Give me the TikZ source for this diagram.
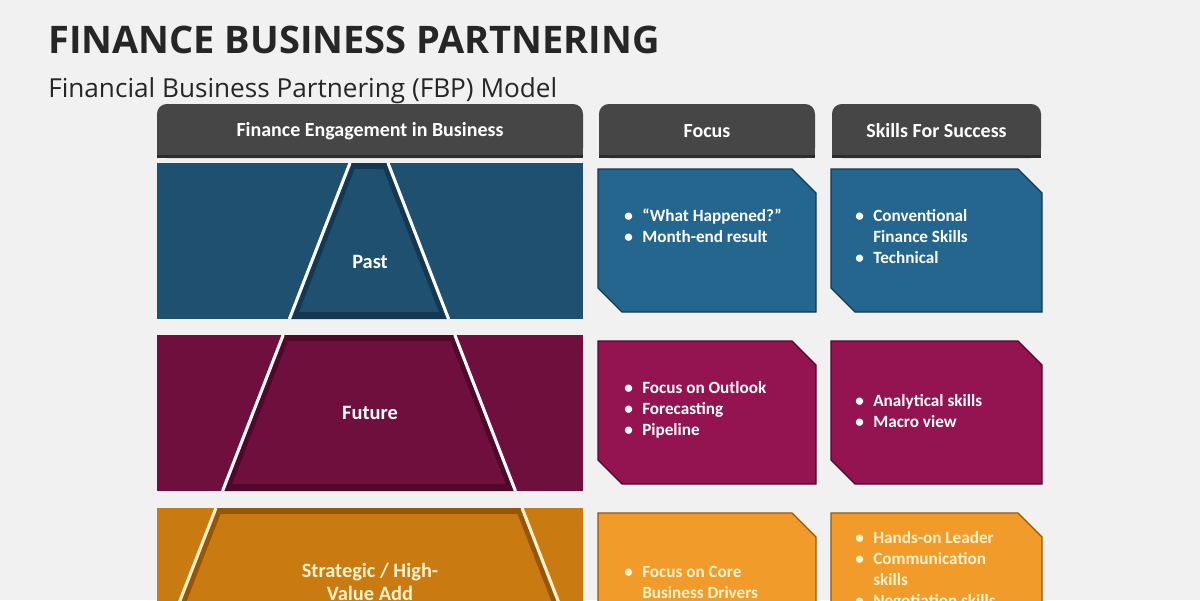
\documentclass[tikz,border=0pt]{standalone}
\usepackage{fontspec}
\setmainfont{Carlito}
\newfontfamily\fbptitlefont{Open Sans}
\usetikzlibrary{positioning}

\definecolor{FBPBack}{RGB}{241, 241, 241}
\definecolor{FBPTitle}{RGB}{38, 38, 38}
\definecolor{FBPHead}{RGB}{70, 70, 70}
\definecolor{FBPHeadDark}{RGB}{45, 45, 45}
\definecolor{FBPBlue}{RGB}{31, 80, 112}
\definecolor{FBPBlueDark}{RGB}{20, 56, 82}
\definecolor{FBPBlueLight}{RGB}{36, 102, 142}
\definecolor{FBPMaroon}{RGB}{110, 15, 62}
\definecolor{FBPMaroonDark}{RGB}{80, 8, 42}
\definecolor{FBPMaroonLight}{RGB}{148, 20, 82}
\definecolor{FBPOrange}{RGB}{201, 122, 16}
\definecolor{FBPOrangeDark}{RGB}{150, 86, 8}
\definecolor{FBPOrangeLight}{RGB}{240, 155, 42}
\definecolor{FBPCream}{RGB}{255, 243, 205}

\newcommand{\fbpitem}[1]{\makebox[1.05em][l]{\textbullet}#1}
\newcommand{\fbpmore}[1]{\hspace*{1.05em}#1}

\tikzset{
  headtext/.style={text=white, font=\bfseries\fontsize{14.2}{17}\selectfont},
  pyrtext/.style={text=#1, font=\bfseries\fontsize{14.5}{16}\selectfont, align=center},
  pyrtext/.default=white,
  bullettext/.style={text=#1, font=\bfseries\fontsize{12.2}{14.9}\selectfont,
                     align=left, anchor=north west, inner sep=0pt},
  gapline/.style={draw=#1, line width=2.2pt}
}

\begin{document}
\begin{tikzpicture}[x=0.025cm, y=-0.025cm]
  \useasboundingbox (0,0) rectangle (1200,600);
  \clip (0,0) rectangle (1200,600);
  \fill[FBPBack] (0,0) rectangle (1200,600);

  % title
  \node[anchor=base west, inner sep=0pt, text=FBPTitle,
        font=\fbptitlefont\bfseries\fontsize{27}{32}\selectfont] (title) at (48,53) {FINANCE BUSINESS PARTNERING};
  \node[anchor=base west, inner sep=0pt, text=FBPTitle,
        font=\fbptitlefont\fontsize{18.6}{22}\selectfont] (subtitle) at (48,97) {Financial Business Partnering (FBP) Model};

  % column headers
  \foreach \xa/\xb/\txt/\nm in {157/583/Finance Engagement in Business/hengage,
                                599/815/Focus/hfocus, 832/1041/Skills For Success/hskills}{
    \fill[FBPHead, rounded corners=7pt] (\xa,104) rectangle (\xb,158);
    \fill[FBPHead] (\xa,130) rectangle (\xb,158);
    \fill[FBPHeadDark] (\xa,155) rectangle (\xb,158);
    \node[headtext] (\nm) at ({(\xa+\xb)/2},131) {\txt};
  }

  % pyramid rows
  \foreach \rtop/\col/\dk/\edge in {163/FBPBlue/FBPBlueDark/white,
                                    335/FBPMaroon/FBPMaroonDark/white,
                                    508/FBPOrange/FBPOrangeDark/FBPCream}{
    \pgfmathsetmacro\rbot{\rtop+156}
    \pgfmathsetmacro\wt{19+0.3885*(\rtop-163)}
    \pgfmathsetmacro\wb{19+0.3885*(\rbot-163)}
    \pgfmathsetmacro\wti{19+0.3885*(\rtop-157)-7}
    \pgfmathsetmacro\wbi{19+0.3885*(\rbot-170)-7}
    \fill[\col] (157,\rtop) rectangle (583,\rbot);
    \fill[\dk] ({369-\wt},\rtop) -- ({369+\wt},\rtop) -- ({369+\wb},\rbot) -- ({369-\wb},\rbot) -- cycle;
    \fill[\col] ({369-\wti},{\rtop+6}) -- ({369+\wti},{\rtop+6}) -- ({369+\wbi},{\rbot-7}) -- ({369-\wbi},{\rbot-7}) -- cycle;
    \draw[gapline=\edge] ({369-\wt},\rtop) -- ({369-\wb},\rbot);
    \draw[gapline=\edge] ({369+\wt},\rtop) -- ({369+\wb},\rbot);
  }
  \node[pyrtext] (past) at (370,262) {Past};
  \node[pyrtext] (future) at (370,413) {Future};
  \node[pyrtext=FBPCream] (strategic) at (370,582) {Strategic / High-\\Value Add};

  % focus and skills boxes
  \foreach \rtop/\col/\dk in {169/FBPBlueLight/FBPBlueDark, 341/FBPMaroonLight/FBPMaroonDark,
                              513/FBPOrangeLight/FBPOrangeDark}{
    \pgfmathsetmacro\rbot{\rtop+143}
    \foreach \xa/\xb in {598/816, 831/1042}{
      \filldraw[fill=\col, draw=\dk, line width=0.9pt] (\xa,\rtop) -- ({\xb-24},\rtop) -- (\xb,{\rtop+24})
        -- (\xb,\rbot) -- ({\xa+24},\rbot) -- (\xa,{\rbot-24}) -- cycle;
    }
  }

  \node[bullettext=white] (pastfocus) at (624,209) {\fbpitem{“What Happened?”}\\\fbpitem{Month-end result}};
  \node[bullettext=white] (pastskills) at (855,209) {\fbpitem{Conventional}\\\fbpmore{Finance Skills}\\\fbpitem{Technical}};
  \node[bullettext=white] (futurefocus) at (624,381) {\fbpitem{Focus on Outlook}\\\fbpitem{Forecasting}\\\fbpitem{Pipeline}};
  \node[bullettext=white] (futureskills) at (855,394) {\fbpitem{Analytical skills}\\\fbpitem{Macro view}};
  \node[bullettext=FBPCream] (stratfocus) at (624,566) {\fbpitem{Focus on Core}\\\fbpmore{Business Drivers}};
  \node[bullettext=FBPCream] (stratskills) at (855,531) {\fbpitem{Hands-on Leader}\\\fbpitem{Communication}\\\fbpmore{skills}\\\fbpitem{Negotiation skills}};
\end{tikzpicture}
\end{document}
